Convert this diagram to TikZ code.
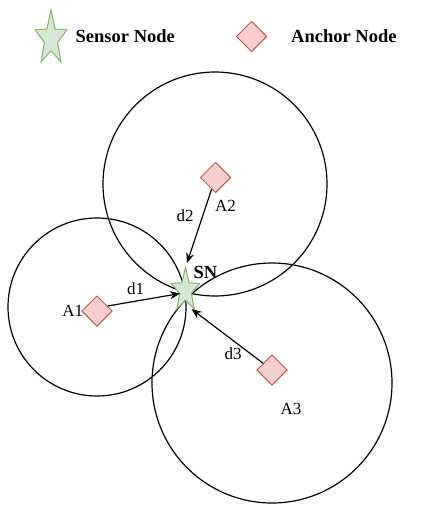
\documentclass[tikz,border=0pt]{standalone}
\usepackage{fontspec}
\setmainfont{Liberation Serif}
\usetikzlibrary{shapes.geometric,arrows.meta}
\definecolor{anchorfill}{HTML}{F8CECC}
\definecolor{anchorline}{HTML}{B85450}
\definecolor{starfill}{HTML}{D5E8D4}
\definecolor{starline}{HTML}{82B366}
\begin{document}
\begin{tikzpicture}[x=1pt,y=-1pt,
  anchorbox/.style={diamond, draw=anchorline, fill=anchorfill, line width=1pt, inner sep=0pt, minimum size=30.5pt},
  sensorstar/.style={star, star points=5, star point ratio=2.4, draw=starline, fill=starfill, line width=1pt, inner sep=0pt, transform shape},
  rangecircle/.style={draw=black, line width=1.2pt},
  lbl/.style={font=\fontsize{17}{19}\selectfont, inner sep=0pt},
  blbl/.style={font=\fontsize{18.5}{20}\selectfont\bfseries, inner sep=0pt},
  dist/.style={-{Stealth[length=10pt,width=8pt]}, line width=1.2pt}
]
\useasboundingbox (0,0) rectangle (432,514);
% range circles
\draw[rangecircle] (215,184) circle[radius=112];
\draw[rangecircle] (97,307) circle[radius=89];
\draw[rangecircle] (272,383) circle[radius=120];
% legend
\begin{scope}[shift={(51,38.7)}, yscale=1.71]
  \node[sensorstar, minimum size=33.6pt] (lstar) at (0,0) {};
\end{scope}
\node[blbl, anchor=west] (lsensor) at (75.5,36) {Sensor Node};
\node[anchorbox] (lanchor) at (251.5,36.5) {};
\node[blbl, anchor=west] (lanchortext) at (291,36) {Anchor Node};
% anchors
\node[anchorbox] (a1) at (97,311) {};
\node[anchorbox] (a2) at (215.5,177.5) {};
\node[anchorbox] (a3) at (272,370) {};
% sensor node
\begin{scope}[shift={(185.5,290.5)}, yscale=1.55]
  \node[sensorstar, minimum size=29.5pt] (sn) at (0,0) {};
\end{scope}
% arrow tips
\coordinate (t1) at (180,293.5);
\coordinate (t2) at (187,263);
\coordinate (t3) at (191.5,309);
\draw[dist] (a1.25) -- (t1);
\draw[dist] (a2) -- (t2);
\draw[dist] (a3) -- (t3);
% labels
\node[lbl] (la1) at (72.7,311) {A1};
\node[lbl] (la2) at (225.5,206) {A2};
\node[lbl] (la3) at (291,408.5) {A3};
\node[lbl] (ld1) at (135.5,288.5) {d1};
\node[lbl] (ld2) at (185,216) {d2};
\node[lbl] (ld3) at (233,354) {d3};
\node[blbl] (lsn) at (205.5,272.5) {SN};
\end{tikzpicture}
\end{document}
